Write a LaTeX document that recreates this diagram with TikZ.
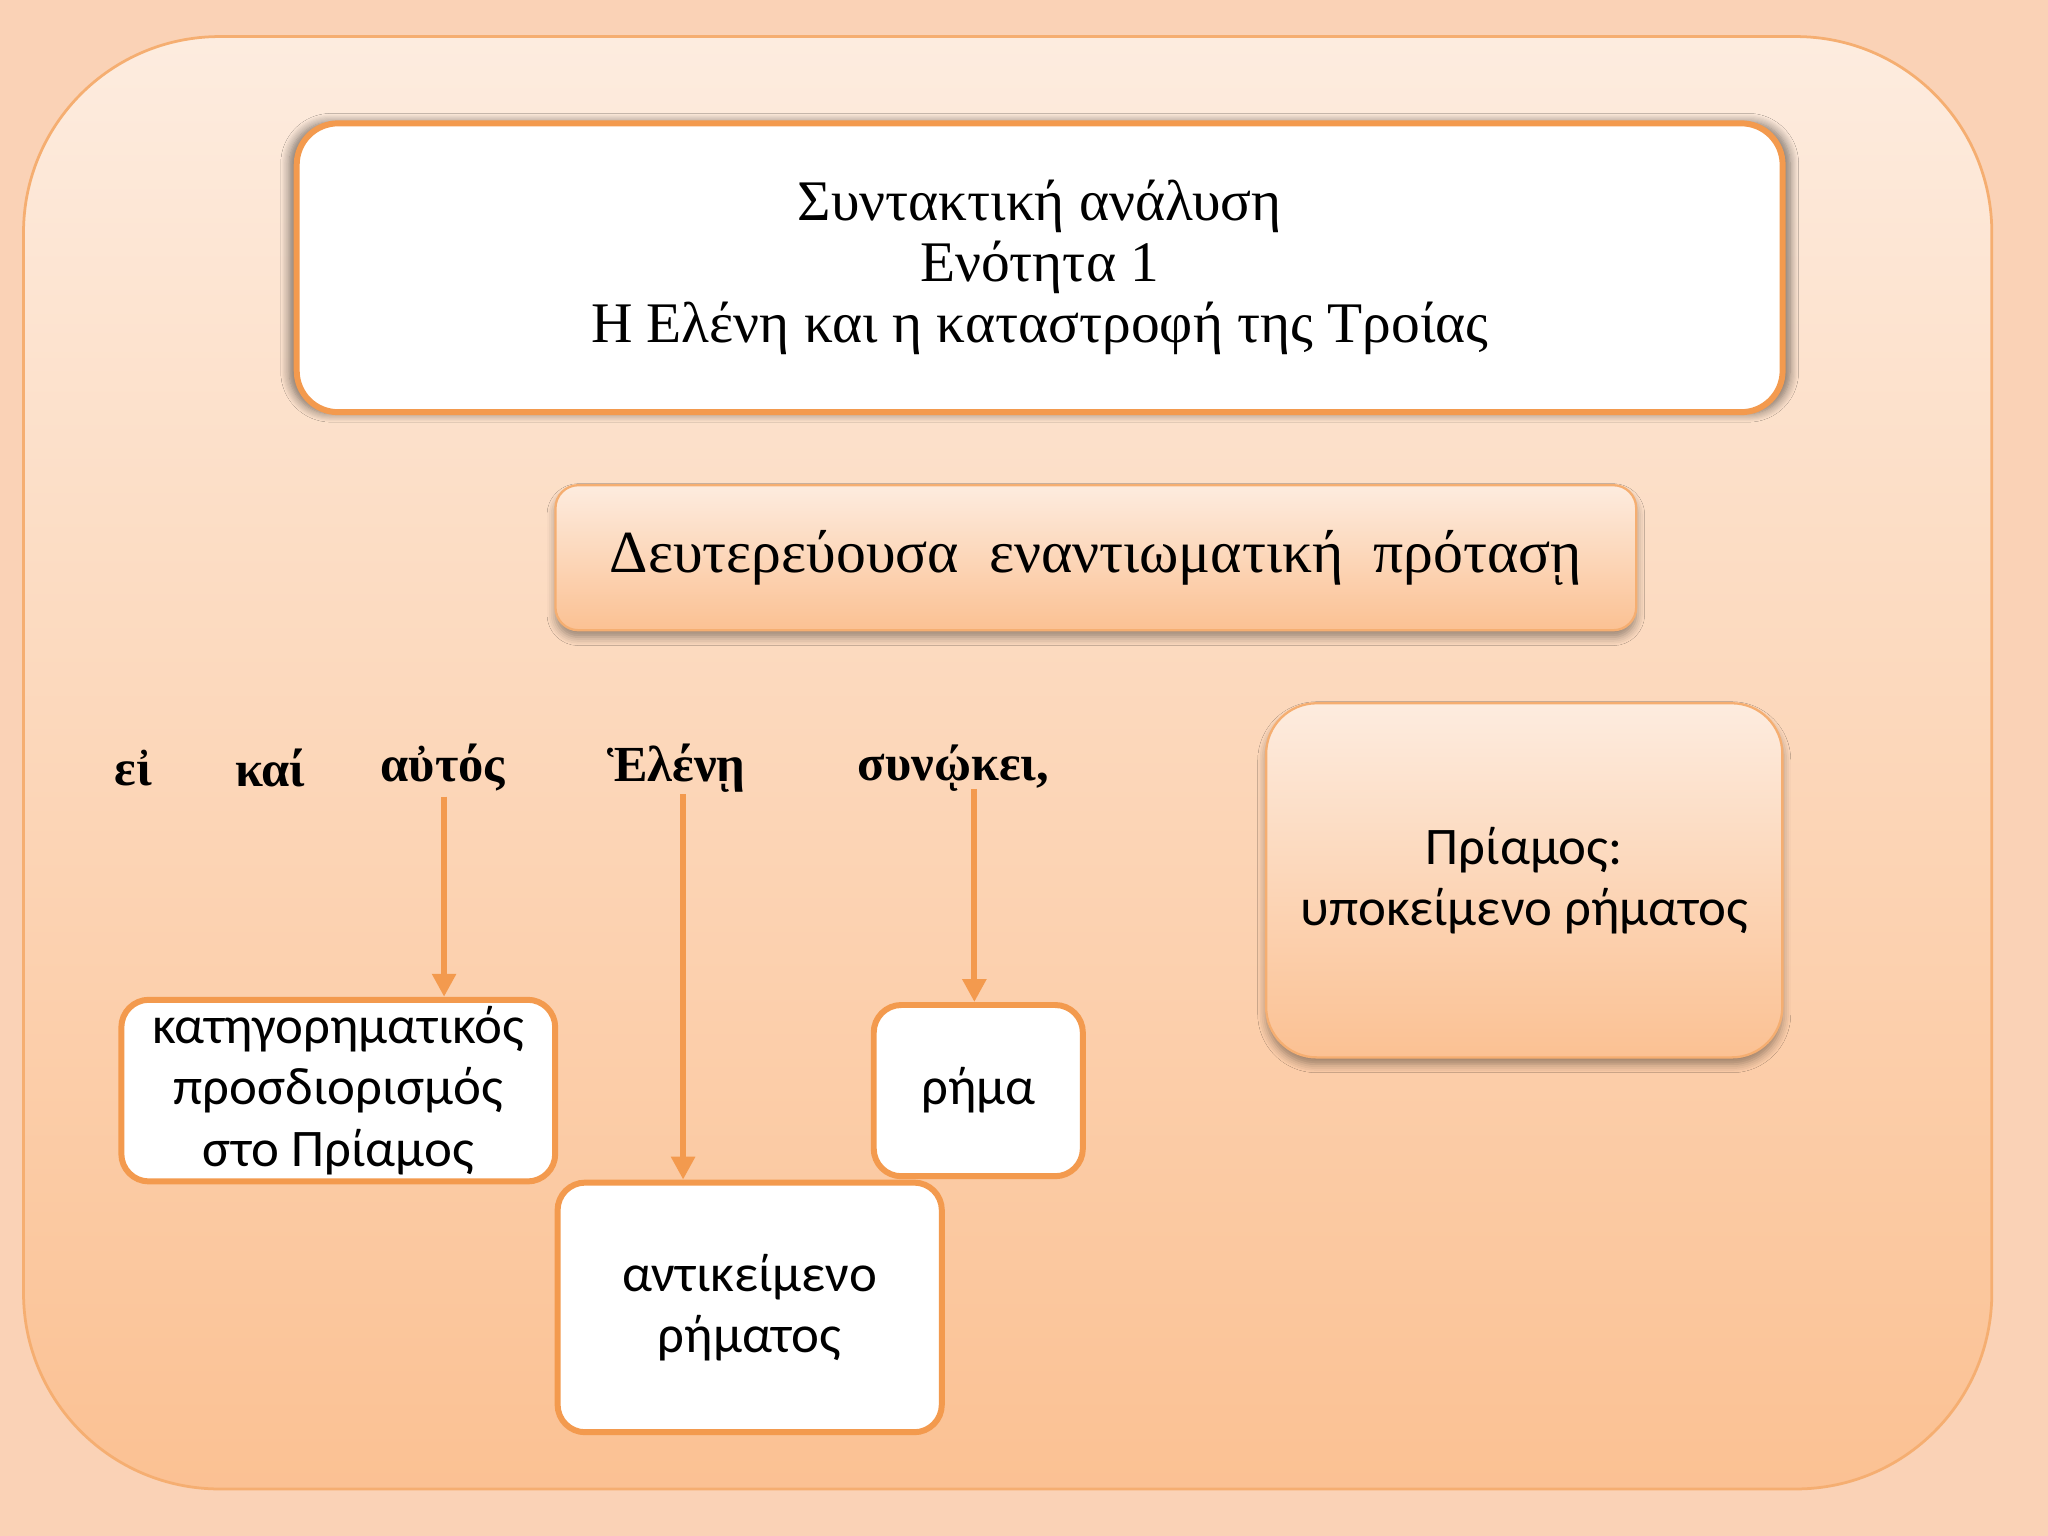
\documentclass[tikz,border=0pt]{standalone}
\usepackage{fontspec}
\setmainfont{Liberation Serif}
\setsansfont{Carlito}
\usetikzlibrary{arrows.meta,shadows.blur}
\definecolor{peach}{HTML}{FAD2B6}
\definecolor{org}{HTML}{F39A4E}
\definecolor{lt}{HTML}{FDECDF}
\definecolor{dk}{HTML}{FBC193}
\tikzset{
 wbox/.style={draw=org,line width=1.3pt,fill=white,rounded corners=6pt,align=center,font=\sffamily\fontsize{11.5}{13.3}\selectfont},
 gbox/.style={draw=org!80,line width=0.5pt,top color=lt,bottom color=dk,rounded corners=5pt,align=center,blur shadow={shadow blur steps=5,shadow xshift=0pt,shadow yshift=-1.5pt}},
 word/.style={font=\bfseries\fontsize{11}{13}\selectfont},
 arr/.style={draw=org,line width=1.3pt,-{Triangle[length=5pt,width=5pt]}}
}
\begin{document}
\begin{tikzpicture}[x=0.01cm,y=-0.01cm]
\fill[peach] (0,0) rectangle (1568,1176);
\useasboundingbox (0,0) rectangle (1568,1176);
\draw[draw=org!80,line width=0.6pt,top color=lt,bottom color=dk,rounded corners=1.5cm] (18,28) rectangle (1525,1140);
\node[draw=org,line width=1.3pt,fill=white,rounded corners=9pt,minimum width=11.37cm,minimum height=2.21cm,align=center,font=\fontsize{12.5}{13.3}\selectfont,blur shadow={shadow blur steps=8,shadow xshift=0pt,shadow yshift=0pt,shadow opacity=50,shadow scale=1.01}] (title) at (796,205)
 {Συντακτική ανάλυση\\Ενότητα 1\\Η Ελένη και η καταστροφή της Τροίας};
\node[gbox,minimum width=8.27cm,minimum height=1.11cm,font=\fontsize{13}{16}\selectfont] (sub) at (839,427) {Δευτερεύουσα\ \ εναντιωματική\ \ πρότασῃ};
\node[word] (w1) at (102,588) {εἰ};
\node[word] (w2) at (207,588) {καί};
\node[word] (w3) at (339,588) {αὐτός};
\node[word] (w4) at (518,588) {Ἑλένῃ};
\node[word] (w5) at (730,588) {συνῴκει,};
\node[wbox,minimum width=3.32cm,minimum height=1.39cm,inner sep=1pt] (kat) at (259,835) {κατηγορηματικός\\προσδιορισμός\\στο Πρίαμος};
\node[wbox,minimum width=2.94cm,minimum height=1.91cm] (ant) at (574,1001) {αντικείμενο\\ρήματος};
\node[wbox,minimum width=1.6cm,minimum height=1.31cm] (rima) at (749,835) {ρήμα};
\node[gbox,minimum width=3.95cm,minimum height=2.71cm,rounded corners=11pt,font=\sffamily\fontsize{11.5}{13.3}\selectfont] (pri) at (1167,674) {Πρίαμος:\\υποκείμενο ρήματος};
\draw[arr] (340,610) coordinate (a1) -- (a1 |- kat.north);
\draw[arr] (523,608) coordinate (a2) -- (a2 |- ant.north);
\draw[arr] (746,604) coordinate (a3) -- (a3 |- rima.north);
\end{tikzpicture}
\end{document}
